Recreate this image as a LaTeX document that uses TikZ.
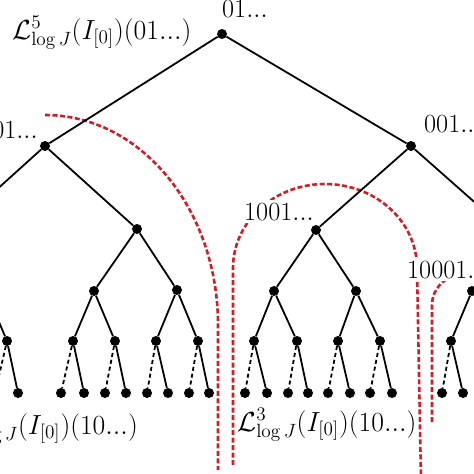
\documentclass[tikz,border=0pt]{standalone}
\usepackage{graphicx}
\definecolor{cutred}{RGB}{210,28,38}
\newcommand{\numlab}[1]{\scalebox{1.52}{$#1$}}
\newcommand{\mathlab}[1]{\scalebox{1.6}{$#1$}}
\tikzset{
 dot/.style={circle,fill=black,inner sep=0pt,minimum size=10pt},
 edge/.style={line width=1.8pt},
 dedge/.style={line width=1.8pt,dash pattern=on 4pt off 3pt},
 cut/.style={cutred,line width=2.6pt,dash pattern=on 5pt off 2.5pt},
 lab/.style={font=\fontsize{17.28}{21}\selectfont,inner sep=0pt},
 wlab/.style={lab,fill=white,inner sep=3pt},
}
\begin{document}
\begin{tikzpicture}[x=1pt,y=-1pt]
\useasboundingbox (0,0) rectangle (474,474);
\clip (0,0) rectangle (474,474);
% red cuts
\draw[cut] (45,115) .. controls (140.5,115) and (218,209) .. (218,325) -- (218,470);
\draw[cut] (233,465) -- (233,268) .. controls (233,221.6) and (274.2,184) .. (325,184)
  .. controls (375.8,184) and (417,221.6) .. (417,268) -- (421,480);
\draw[cut] (432,422) -- (432,305) .. controls (432,288.4) and (445.4,275) .. (462,275) -- (480,275);
% tree nodes
\node[dot] (r) at (222,34) {};
\node[dot] (a) at (45,146) {};
\node[dot] (b) at (411,146) {};
\coordinate (aL) at (-47,229);
\coordinate (bR) at (506,230);
\node[dot] (ab) at (137,229) {};
\node[dot] (ba) at (316,230) {};
\node[dot] (aba) at (94,291) {};
\node[dot] (abb) at (177,290) {};
\node[dot] (baa) at (274,291) {};
\node[dot] (bab) at (356,291) {};
\coordinate (xl) at (-14,291);
\node[dot] (xr) at (472,291) {};
\draw[edge] (r) -- (a);
\draw[edge] (r) -- (b);
\draw[edge] (a) -- (aL);
\draw[edge] (a) -- (ab);
\draw[edge] (b) -- (ba);
\draw[edge] (b) -- (bR);
\draw[edge] (bR) -- (xr);
\draw[edge] (ab) -- (aba);
\draw[edge] (ab) -- (abb);
\draw[edge] (ba) -- (baa);
\draw[edge] (ba) -- (bab);
\foreach \n/\p/\x/\lx/\rx in {c1/xl/7/-5/18, c2/aba/73/61/84, c3/aba/115/105/126, c4/abb/156/147/168, c5/abb/198/189/209,
  d1/baa/254/245/267, d2/baa/297/288/308, d3/bab/338/328/350, d4/bab/380/370/392, d5/xr/451/442/463}{
  \node[dot] (\n) at (\x,341) {};
  \node[dot] (\n l) at (\lx,393) {};
  \node[dot] (\n r) at (\rx,393) {};
  \draw[edge] (\p) -- (\n);
  \draw[dedge] (\n) -- (\n l);
  \draw[edge] (\n) -- (\n r);
}
% labels
\node[lab,anchor=base west] (t0) at (222,17) {\numlab{01...}};
\node[lab,anchor=base west] (tL5) at (12,39) {\mathlab{\mathcal{L}^5_{\log J}(I_{[0]})(01...)}};
\node[lab,anchor=base east] (tA) at (38,138) {\numlab{001...}};
\node[lab,anchor=base west] (tB) at (424,132) {\numlab{001...}};
\node[wlab,anchor=base west] (tBA) at (241,220) {\numlab{1001...}};
\node[wlab,anchor=base west] (tX) at (404,278) {\numlab{10001...}};
\node[lab,anchor=base west] (tL3) at (237,431) {\mathlab{\mathcal{L}^3_{\log J}(I_{[0]})(10...)}};
\node[lab,anchor=base east] (tL3b) at (138,434) {\mathlab{\mathcal{L}^3_{\log J}(I_{[0]})(10...)}};
\end{tikzpicture}
\end{document}
